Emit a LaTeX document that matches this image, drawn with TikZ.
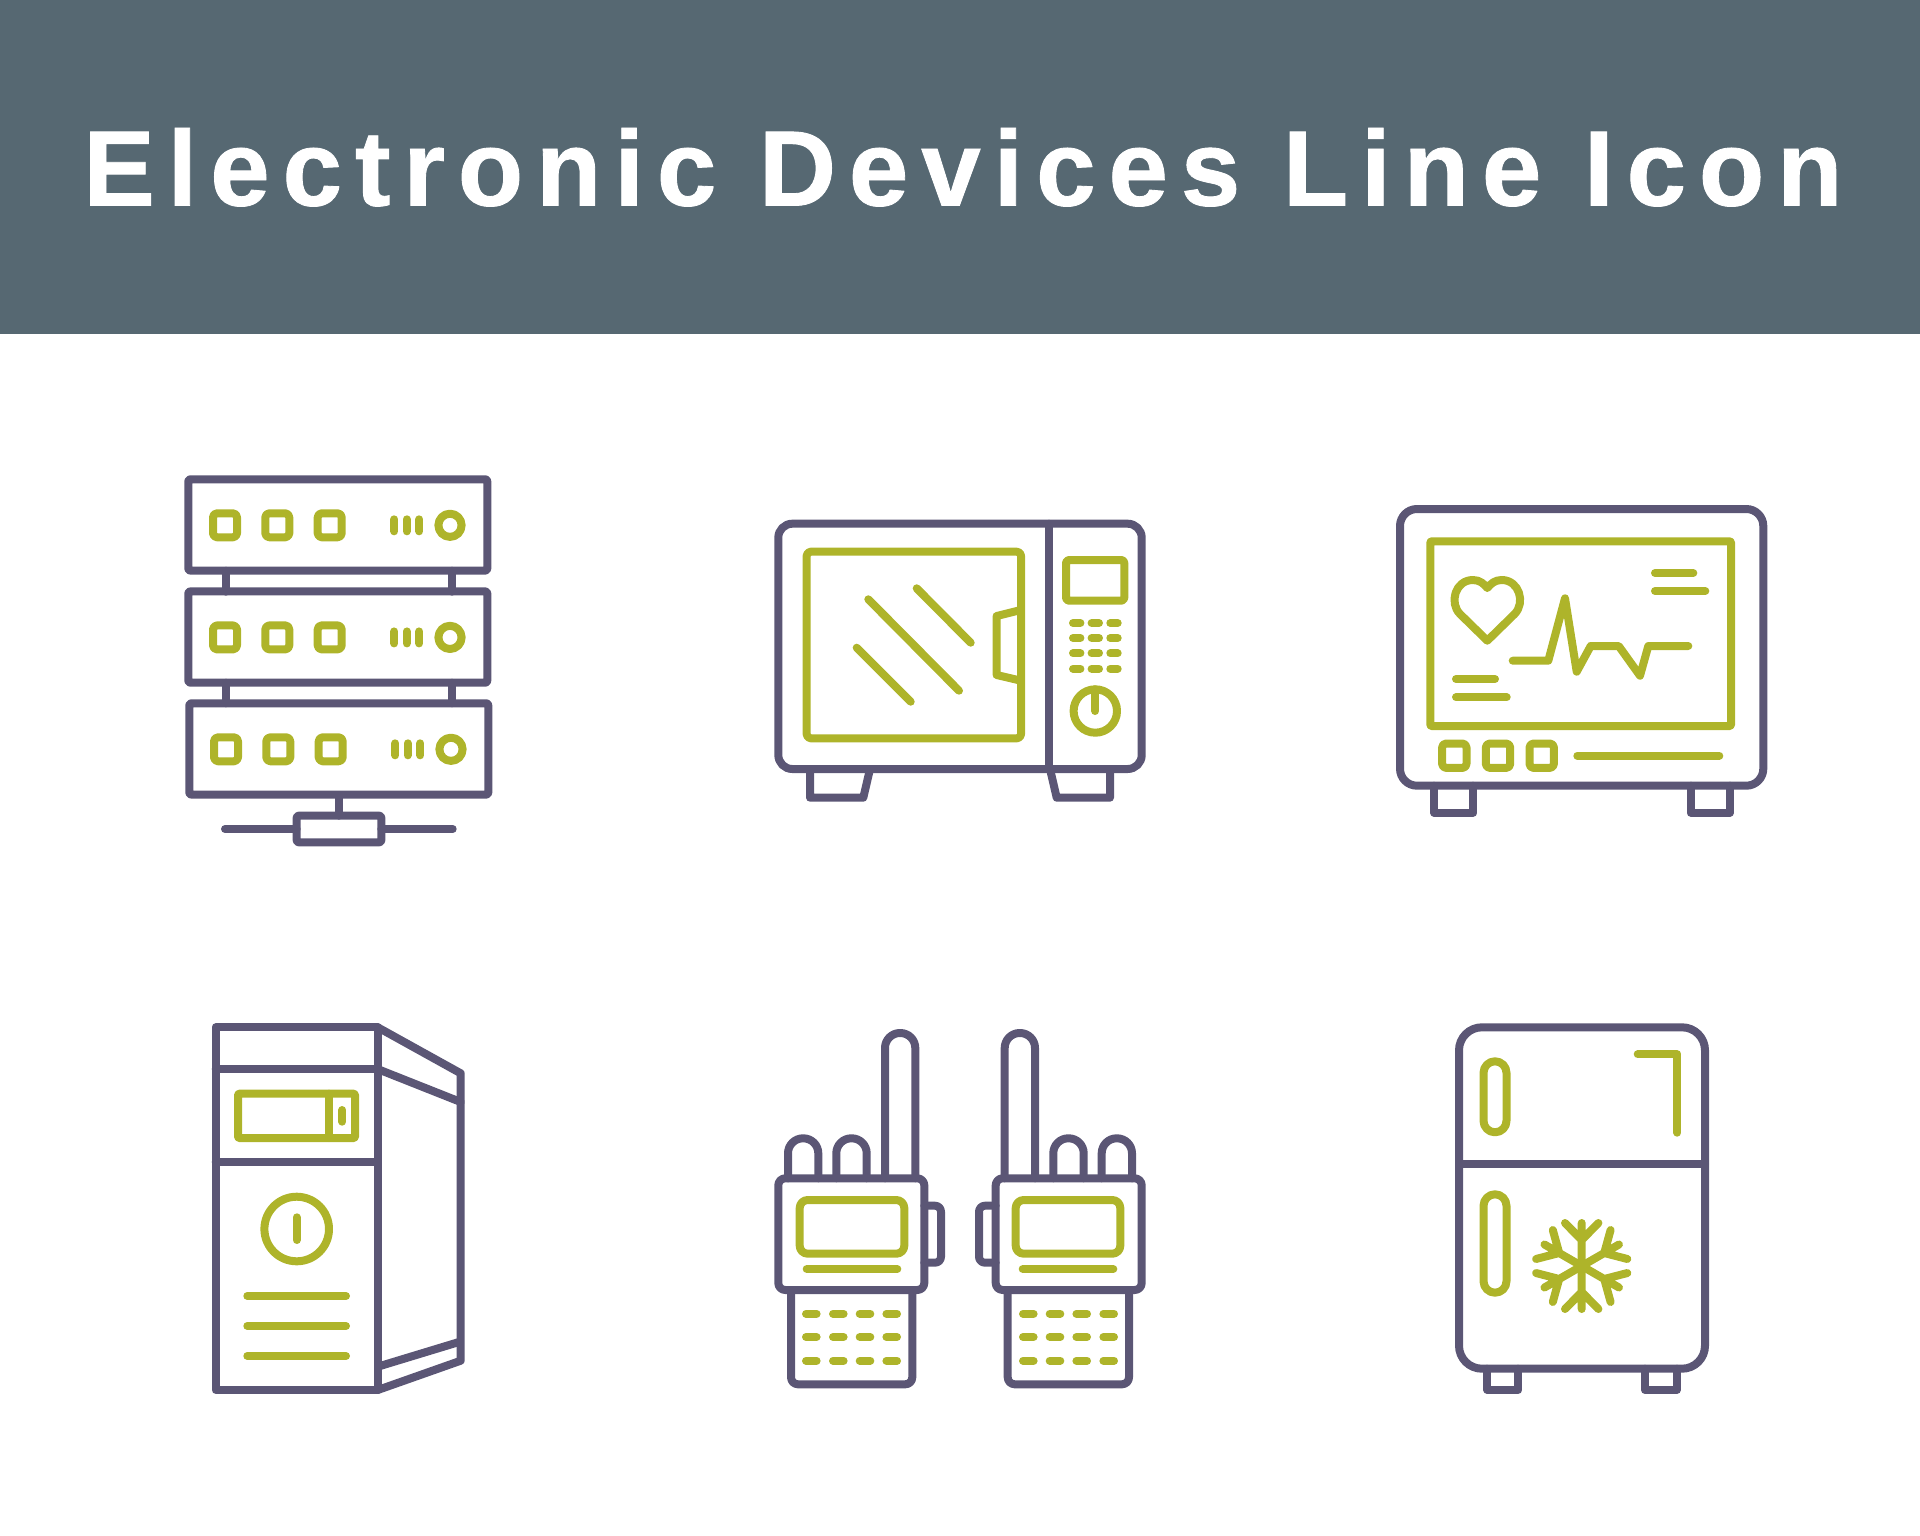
\documentclass[tikz,border=0pt]{standalone}
\usepackage{fontspec}
\setmainfont{Liberation Sans}
\newfontfamily\titlefont[UprightFont=* Bold, LetterSpace=12, FakeBold=0.8]{Liberation Sans}
\definecolor{bandcol}{HTML}{566872}
\definecolor{purplecol}{HTML}{5B5675}
\definecolor{greencol}{HTML}{AEB42A}
\tikzset{
	purpleln/.style={draw=purplecol, line width=8pt, line cap=round, line join=round},
	greenln/.style={draw=greencol, line width=8pt, line cap=round, line join=round}
}
% one server unit: x and y of its top left corner
\newcommand{\serverunit}[2]{
	\draw[purpleln, rounded corners=2pt] (#1, #2) rectangle (#1+299, #2+91.3);
	\draw[greenln, rounded corners=4pt] (#1+24.7, #2+34) rectangle (#1+48.7, #2+58);
	\draw[greenln, rounded corners=4pt] (#1+77, #2+34) rectangle (#1+101, #2+58);
	\draw[greenln, rounded corners=4pt] (#1+129.4, #2+34) rectangle (#1+153.4, #2+58);
	\draw[greenln] (#1+206, #2+40) -- (#1+206, #2+52);
	\draw[greenln] (#1+218.4, #2+40) -- (#1+218.4, #2+52);
	\draw[greenln] (#1+231, #2+40) -- (#1+231, #2+52);
	\draw[greenln] (#1+261.7, #2+46) circle (11.6);
}
% one row of keys of a radio
\newcommand{\keyrow}[1]{
	\draw[greenln] (806, #1) -- (816.6, #1);
	\draw[greenln] (833, #1) -- (843.6, #1);
	\draw[greenln] (859.7, #1) -- (870.3, #1);
	\draw[greenln] (886.4, #1) -- (897, #1);
}
\newcommand{\walkie}{
	\draw[purpleln, rounded corners=15pt] (885, 1178.3) -- (885, 1033) -- (915.3, 1033) -- (915.3, 1178.3);
	\draw[purpleln, rounded corners=15pt] (788, 1178.3) -- (788, 1138.3) -- (818.3, 1138.3) -- (818.3, 1178.3);
	\draw[purpleln, rounded corners=15pt] (836.3, 1178.3) -- (836.3, 1138.3) -- (866.7, 1138.3) -- (866.7, 1178.3);
	\draw[purpleln, rounded corners=6pt] (924.3, 1205.7) -- (941, 1205.7) -- (941, 1262.7) -- (924.3, 1262.7);
	\draw[purpleln, rounded corners=7pt] (791, 1290) -- (791, 1384.3) -- (912.3, 1384.3) -- (912.3, 1290);
	\draw[purpleln, rounded corners=7pt] (778.3, 1178.3) rectangle (924.3, 1290);
	\draw[greenln, rounded corners=8pt] (799.7, 1200) rectangle (904.3, 1253.7);
	\draw[greenln] (806.7, 1269) -- (897.3, 1269);
	\keyrow{1313.7}
	\keyrow{1337}
	\keyrow{1360.7}
}
% one arm of the snowflake
\newcommand{\flakearm}[1]{
	\draw[greenln, shift={(1581.7, 1266)}, rotate=#1] (0, 0) -- (0, -43) (-16.7, -43) -- (0, -26) -- (16.7, -43);
}

\begin{document}
\begin{tikzpicture}[x=1pt, y=-1pt]
	\useasboundingbox (0, 0) rectangle (1920, 1536);
	\fill[bandcol] (0, 0) rectangle (1920, 333.5);
	\node[anchor=base, text=white, inner sep=0pt, font=\titlefont\fontsize{107}{107}\selectfont] (title)at(963, 205.5) {Electronic Devices Line Icon};

	% server rack
	\draw[purpleln] (225.7, 570.7) -- (225.7, 591.7);
	\draw[purpleln] (452, 570.7) -- (452, 591.7);
	\draw[purpleln] (225.7, 682.7) -- (225.7, 703.3);
	\draw[purpleln] (452, 682.7) -- (452, 703.3);
	\serverunit{188.3}{479.3}
	\serverunit{188.3}{591.4}
	\serverunit{189.3}{703.3}
	\draw[purpleln] (339, 795) -- (339, 815.7);
	\draw[purpleln] (225, 829) -- (296.7, 829);
	\draw[purpleln] (381.3, 829) -- (452.7, 829);
	\draw[purpleln, rounded corners=2pt] (296.7, 815.7) rectangle (381.3, 842.3);

	% microwave
	\draw[purpleln] (810, 769) -- (810, 797.7) -- (863.3, 797.7) -- (870, 769);
	\draw[purpleln] (1050, 769) -- (1056.7, 797.7) -- (1110, 797.7) -- (1110, 769);
	\draw[purpleln, rounded corners=14pt] (778.3, 523.7) rectangle (1141.7, 769);
	\draw[purpleln] (1049.3, 523.7) -- (1049.3, 769);
	\draw[greenln, rounded corners=4pt] (806.7, 551.7) rectangle (1021, 738.3);
	\draw[greenln] (1021, 610) -- (996.7, 616) -- (996.7, 675) -- (1021, 680.7);
	\draw[greenln] (916.7, 588.3) -- (970.7, 642.7);
	\draw[greenln] (868.3, 599.3) -- (959, 690.7);
	\draw[greenln] (856.7, 647.7) -- (910.7, 701.7);
	\draw[greenln, rounded corners=3pt] (1066, 560) rectangle (1124.3, 600.7);
	\draw[greenln] (1073, 623) -- (1080.4, 623) (1091.6, 623) -- (1099, 623) (1110.3, 623) -- (1117.7, 623);
	\draw[greenln] (1073, 638) -- (1080.4, 638) (1091.6, 638) -- (1099, 638) (1110.3, 638) -- (1117.7, 638);
	\draw[greenln] (1073, 653.3) -- (1080.4, 653.3) (1091.6, 653.3) -- (1099, 653.3) (1110.3, 653.3) -- (1117.7, 653.3);
	\draw[greenln] (1073, 668.7) -- (1080.4, 668.7) (1091.6, 668.7) -- (1099, 668.7) (1110.3, 668.7) -- (1117.7, 668.7);
	\draw[greenln] (1095.3, 711) circle (21.7);
	\draw[greenln] (1095.3, 689.3) -- (1095.3, 711);

	% patient monitor
	\draw[purpleln] (1434, 785.7) -- (1434, 812.7) -- (1473.3, 812.7) -- (1473.3, 785.7);
	\draw[purpleln] (1690.7, 785.7) -- (1690.7, 812.7) -- (1730, 812.7) -- (1730, 785.7);
	\draw[purpleln, rounded corners=17pt] (1400, 509) rectangle (1763.3, 785.7);
	\draw[greenln, rounded corners=1pt] (1430.3, 541.3) rectangle (1731, 726);
	\draw[greenln] (1487.3, 640.7) -- (1460, 614) .. controls (1449, 603) and (1455, 580) .. (1473, 580) .. controls (1480, 580) and (1484, 584) .. (1487.3, 588) .. controls (1490.6, 584) and (1494.6, 580) .. (1501.6, 580) .. controls (1519.6, 580) and (1525.6, 603) .. (1514.6, 614) -- cycle;
	\draw[greenln] (1512.7, 660.7) -- (1548.3, 660.7) -- (1565, 598.3) -- (1576.7, 671.7) -- (1590.7, 646) -- (1618.7, 646) -- (1640, 675.7) -- (1648.3, 646) -- (1688.3, 646);
	\draw[greenln] (1655, 573) -- (1693.3, 573);
	\draw[greenln] (1655, 591) -- (1705.3, 591);
	\draw[greenln] (1456, 679) -- (1495, 679);
	\draw[greenln] (1456, 697.3) -- (1506.7, 697.3);
	\draw[greenln, rounded corners=4pt] (1442.1, 743.5) rectangle (1466.5, 767.9);
	\draw[greenln, rounded corners=4pt] (1485.8, 743.5) rectangle (1510.2, 767.9);
	\draw[greenln, rounded corners=4pt] (1529.5, 743.5) rectangle (1553.9, 767.9);
	\draw[greenln] (1577.3, 755.7) -- (1719.3, 755.7);

	% computer tower
	\draw[purpleln] (215.7, 1027.3) rectangle (377.7, 1390);
	\draw[purpleln] (215.7, 1069.3) -- (377.7, 1069.3);
	\draw[purpleln] (215.7, 1161.7) -- (377.7, 1161.7);
	\draw[purpleln] (377.7, 1027.3) -- (460.7, 1073.3) -- (460.7, 1360.7) -- (377.7, 1390);
	\draw[purpleln] (380, 1070) -- (460.7, 1102);
	\draw[purpleln] (380, 1366) -- (460, 1341.7);
	\draw[greenln, rounded corners=1pt] (238, 1093.7) rectangle (355, 1138);
	\draw[greenln] (329.3, 1093.7) -- (329.3, 1138);
	\draw[greenln] (342.3, 1110) -- (342.3, 1121.7);
	\draw[greenln] (296.7, 1229) circle (32.3);
	\draw[greenln] (296.7, 1217.3) -- (296.7, 1240);
	\draw[greenln] (247.3, 1296) -- (346, 1296);
	\draw[greenln] (247.3, 1326) -- (346, 1326);
	\draw[greenln] (247.3, 1356) -- (346, 1356);

	% two radios
	\walkie
	\begin{scope}[shift={(1920, 0)}, xscale=-1]
		\walkie
	\end{scope}

	% fridge
	\draw[purpleln] (1487.3, 1368.7) -- (1487.3, 1390) -- (1518.3, 1390) -- (1518.3, 1368.7);
	\draw[purpleln] (1645, 1368.7) -- (1645, 1390) -- (1676.7, 1390) -- (1676.7, 1368.7);
	\draw[purpleln, rounded corners=23pt] (1459, 1027.3) rectangle (1705, 1368.7);
	\draw[purpleln] (1459, 1163.7) -- (1705, 1163.7);
	\draw[greenln, rounded corners=11.5pt] (1483.5, 1061.3) rectangle (1506.5, 1132.3);
	\draw[greenln, rounded corners=11.5pt] (1483.5, 1194.3) rectangle (1506.5, 1292.7);
	\draw[greenln] (1637.7, 1054.3) -- (1677.3, 1054.3) -- (1677.3, 1132.7);
	\flakearm{0}
	\flakearm{60}
	\flakearm{120}
	\flakearm{180}
	\flakearm{240}
	\flakearm{300}
\end{tikzpicture}
\end{document}
